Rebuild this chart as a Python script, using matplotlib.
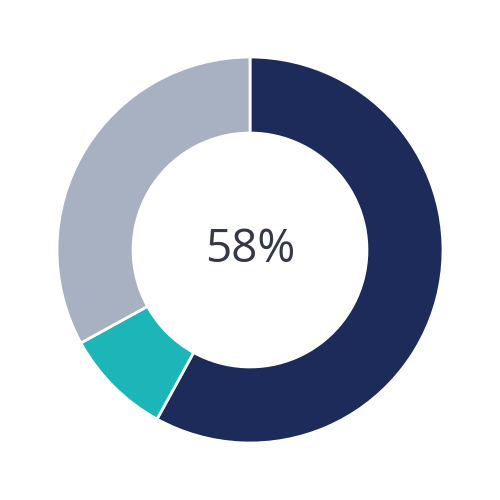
import matplotlib.pyplot as plt

labels = ["Navy", "Teal", "Gray"]
values = [58, 9, 33]
colors = ["#1c2b5a", "#1cb5b8", "#a7b1c1"]
center_label = "58%"

fig = plt.figure(figsize=(5, 5), dpi=100)
ax = fig.add_axes([0, 0, 1, 1])

ax.pie(values, colors=colors, startangle=90, counterclock=False, radius=1.0,
       wedgeprops=dict(width=0.394, edgecolor="white", linewidth=2))

ax.text(0, 0, center_label, ha="center", va="center", fontsize=33,
        color="#343a45", family=["Open Sans", "DejaVu Sans"])

lim = 250 / 193
ax.set_xlim(-lim, lim)
ax.set_ylim(-lim, lim)
ax.set_aspect("equal")
ax.axis("off")

fig.savefig("out.png", dpi=100, facecolor="white")
